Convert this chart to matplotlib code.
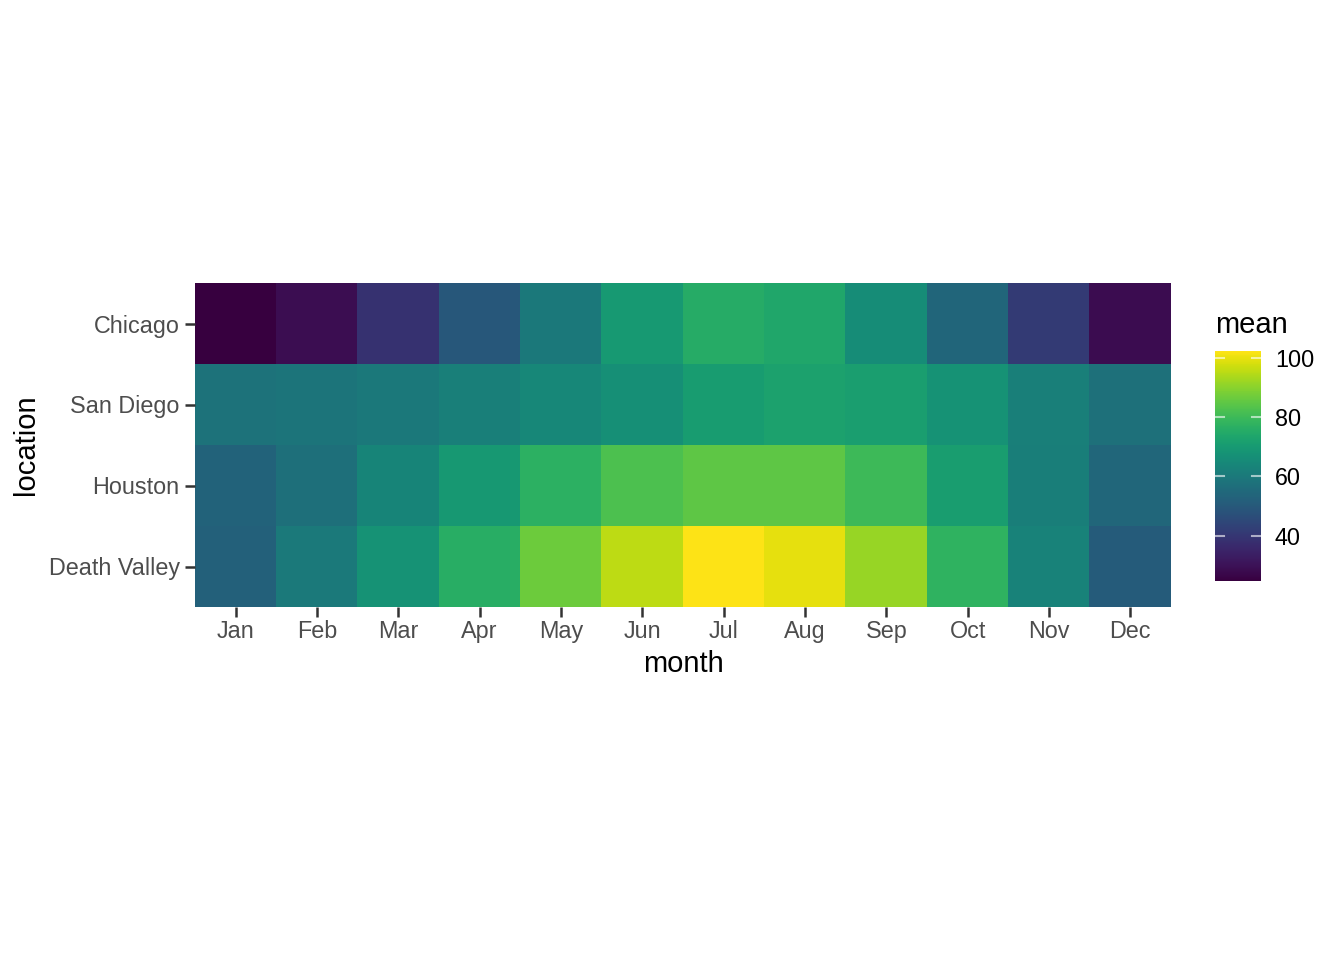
import numpy as np
import matplotlib
matplotlib.use("Agg")
import matplotlib.pyplot as plt
from matplotlib.colors import ListedColormap

plt.rcParams['font.family'] = ['Liberation Sans', 'DejaVu Sans']

months = ["Jan", "Feb", "Mar", "Apr", "May", "Jun",
          "Jul", "Aug", "Sep", "Oct", "Nov", "Dec"]
locations = ["Chicago", "San Diego", "Houston", "Death Valley"]

# monthly mean temperatures (deg F)
chicago = [24.8, 28.9, 39.0, 49.7, 60.0, 70.1, 75.4, 73.9, 66.1, 54.0, 41.3, 28.7]
san_diego = [57.8, 58.4, 60.0, 62.1, 64.6, 67.0, 70.9, 72.5, 71.6, 67.9, 62.2, 57.3]
houston = [53.1, 56.9, 63.6, 69.8, 77.1, 82.5, 84.8, 84.9, 80.1, 71.2, 61.8, 54.2]
death_valley = [52.6, 60.2, 67.8, 76.0, 86.5, 95.5, 102.2, 99.6, 91.6, 77.6, 62.9, 51.0]

temps = np.array([chicago, san_diego, houston, death_valley])

# viridis, a bit darker in the mid tones like the reference render
vir = plt.get_cmap('viridis')(np.linspace(0, 1, 256))
vir[:, 0] = vir[:, 0] ** 1.15
vir[:, 1] = vir[:, 1] ** 1.15
vir[:, 2] = vir[:, 2] ** 1.25
cmap = ListedColormap(vir)

fig = plt.figure(figsize=(13.44, 9.6), dpi=100)
ax = fig.add_axes([195/1344, 1-607/960, 976/1344, 324/960])

im = ax.imshow(temps, cmap=cmap, vmin=temps.min(), vmax=temps.max(),
               aspect='auto', interpolation='nearest')

ax.set_xticks(range(len(months)))
ax.set_xticklabels(months)
ax.set_yticks(range(len(locations)))
ax.set_yticklabels(locations)
for s in ax.spines.values():
    s.set_visible(False)
ax.tick_params(length=7, width=1.8, color='#333333', labelcolor='#4d4d4d',
               labelsize=16.8, pad=4)
ax.tick_params(axis='x', pad=2.5)
ax.set_xlabel("month", fontsize=21, labelpad=5)
ax.set_ylabel("location", fontsize=21, labelpad=6)

# legend
cax = fig.add_axes([1215/1344, 1-581/960, 46/1344, 230/960])
cb = fig.colorbar(im, cax=cax)
cb.outline.set_visible(False)
cb.set_ticks([40, 60, 80, 100])
cax.tick_params(length=0, labelsize=16.8, pad=10)
tr = cax.get_yaxis_transform()
for t in [40, 60, 80, 100]:
    cax.plot([0, 0.2], [t, t], transform=tr, color='white', alpha=0.6, lw=1.5)
    cax.plot([0.8, 1], [t, t], transform=tr, color='white', alpha=0.6, lw=1.5)
fig.text(1215/1344, 1-333/960, "mean", fontsize=21, ha='left', va='baseline')

fig.savefig("out.png", dpi=100, facecolor='white')
